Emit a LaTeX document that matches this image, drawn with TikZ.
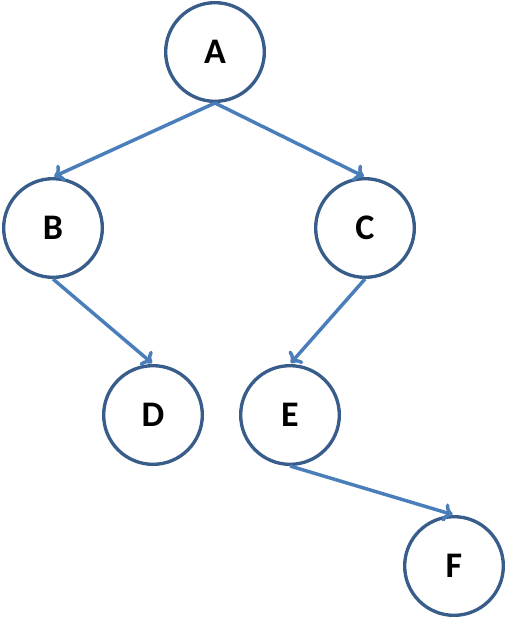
\documentclass[tikz,border=0pt]{standalone}
\usepackage{fontspec}
\setmainfont{Carlito}
\usetikzlibrary{arrows.meta}
\definecolor{nodeline}{HTML}{385D8A}
\definecolor{edgeline}{HTML}{4A7EBB}
\begin{document}
\begin{tikzpicture}[x=0.75pt,y=-0.75pt,->,>={To[length=7pt,width=14pt]},shorten >=1pt,
                edgeline,line width=2.6pt,
                main node/.style={circle,draw=nodeline,fill=white,line width=2.5pt,
                  minimum size=74pt,inner sep=0pt,text=black,font=\fontsize{27}{30}\selectfont\bfseries}]
  \useasboundingbox (0,0) rectangle (506,618);
  \node[main node] (A) at (215,52) {A};
  \node[main node] (B) at (53,228) {B};
  \node[main node] (C) at (365,228) {C};
  \node[main node] (D) at (153,415) {D};
  \node[main node] (E) at (290,415) {E};
  \node[main node] (F) at (454,566) {F};

  \path
    (A.south) edge (B.north)
    (A.south) edge (C.north)
    (B.south) edge (D.north)
    (C.south) edge (E.north)
    (E.south) edge (F.north)
  ;
\end{tikzpicture}
\end{document}
